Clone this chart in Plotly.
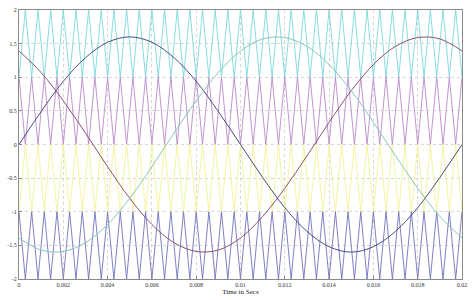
import plotly.graph_objects as go

# --- data ---
t_sine = [i * 0.001 for i in range(21)]  # seconds
sine_a = [0, 0.49, 0.94, 1.29, 1.52, 1.6, 1.52, 1.29, 0.94, 0.49, 0,
          -0.49, -0.94, -1.29, -1.52, -1.6, -1.52, -1.29, -0.94, -0.49, 0]
sine_b = [1.39, 1.07, 0.65, 0.17, -0.33, -0.8, -1.19, -1.46, -1.59, -1.57, -1.39,
          -1.07, -0.65, -0.17, 0.33, 0.8, 1.19, 1.46, 1.59, 1.57, 1.39]
sine_c = [-1.39, -1.57, -1.59, -1.46, -1.19, -0.8, -0.33, 0.17, 0.65, 1.07, 1.39,
          1.57, 1.59, 1.46, 1.19, 0.8, 0.33, -0.17, -0.65, -1.07, -1.39]

carrier_cycles = 35            # triangle periods across 0..0.02 s
band_low = [1, 0, -1, -2]      # lower edge of each carrier band
band_high = [2, 1, 0, -1]      # upper edge
band_start_low = [True, False, True, False]  # carrier starts at band bottom?
carrier_colors = ["#7ad9d9", "#b98acb", "#f3f39a", "#7272bc"]
sine_colors = ["#4a4a86", "#8e5070", "#86c6c0"]

x_ticks = [0, 0.002, 0.004, 0.006, 0.008, 0.01, 0.012, 0.014, 0.016, 0.018, 0.02]
x_labels = ["0", "0.002", "0.004", "0.006", "0.008", "0.01", "0.012", "0.014", "0.016", "0.018", "0.02"]
y_ticks = [-2, -1.5, -1, -0.5, 0, 0.5, 1, 1.5, 2]
y_labels = ["-2", "-1.5", "-1", "-0.5", "0", "0.5", "1", "1.5", "2"]

fig = go.Figure()

n_vert = 2 * carrier_cycles + 1
t_car = [0.02 * k / (n_vert - 1) for k in range(n_vert)]
for lo, hi, start_low, col in zip(band_low, band_high, band_start_low, carrier_colors):
    ys = []
    for k in range(n_vert):
        at_low = (k % 2 == 0) == start_low
        ys.append(lo if at_low else hi)
    fig.add_trace(go.Scatter(x=t_car, y=ys, mode="lines",
                             line=dict(color=col, width=0.9), hoverinfo="skip"))

for ys, col in zip([sine_a, sine_b, sine_c], sine_colors):
    fig.add_trace(go.Scatter(x=t_sine, y=ys, mode="lines",
                             line=dict(color=col, width=1, shape="spline"),
                             hoverinfo="skip"))

axis_common = dict(showline=True, linecolor="#8a8a8a", linewidth=1, mirror=True,
                   ticks="inside", ticklen=3, tickcolor="#8a8a8a",
                   showgrid=True, gridcolor="#d6d6d6", griddash="dot", gridwidth=1,
                   zeroline=False, tickfont=dict(family="Liberation Serif", size=6, color="#333"))

fig.update_layout(
    width=474, height=300,
    margin=dict(l=11, r=7, t=8, b=17),
    paper_bgcolor="white", plot_bgcolor="white",
    showlegend=False,
    xaxis=dict(range=[0, 0.02], tickvals=x_ticks, ticktext=x_labels,
               title=dict(text="Time in Secs", standoff=0,
                          font=dict(family="Liberation Serif", size=7, color="#222")),
               **axis_common),
    yaxis=dict(range=[-2, 2], tickvals=y_ticks, ticktext=y_labels, **axis_common),
)

fig.write_html("out.html")
